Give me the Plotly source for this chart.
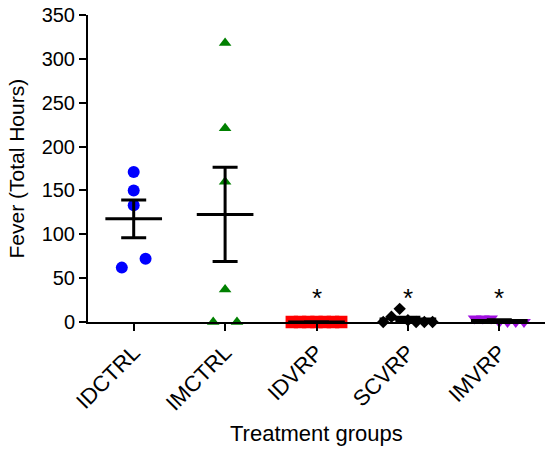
import numpy as np
import plotly.graph_objects as go

# Fever hours per animal
groups = ["IDCTRL", "IMCTRL", "IDVRP", "SCVRP", "IMVRP"]
idctrl = [171, 150, 133, 62, 72]
imctrl = [318, 221, 160, 37, 0, 0]
idvrp = [0, 0, 0, 0, 0, 0, 0]
scvrp = [0, 6, 15, 2, 0, 0, 0]
imvrp = [4, 4, 4, 0, 0, 0, 0]
significant = ["", "", "*", "*", "*"]

values = [idctrl, imctrl, idvrp, scvrp, imvrp]
colors = ["#0000FF", "#008000", "#FF0000", "#000000", "#A010E0"]
symbols = ["circle", "triangle-up", "square", "diamond", "triangle-down"]
sizes = [12, 11, 12.5, 9.5, 12]

FONT = "Liberation Sans, Arial, sans-serif"


def spread(vals, tol=14, step=0.26, max_width=0.54):
    """Scatter-dot style horizontal offsets for points that overlap."""
    vals = np.asarray(vals, dtype=float)
    order = np.argsort(vals, kind="stable")
    offsets = np.zeros(len(vals))
    clusters = [[order[0]]]
    for a, b in zip(order[:-1], order[1:]):
        if vals[b] - vals[a] <= tol:
            clusters[-1].append(b)
        else:
            clusters.append([b])
    for c in clusters:
        c = sorted(c)
        n = len(c)
        if n == 1:
            continue
        st = step
        if (n - 1) * st > max_width:
            st = max_width / (n - 1)
        for k, idx in enumerate(c):
            offsets[idx] = (k - (n - 1) / 2) * st
    return offsets


fig = go.Figure()

for i, vals in enumerate(values):
    off = spread(vals)
    fig.add_trace(
        go.Scatter(
            x=i + off,
            y=vals,
            mode="markers",
            marker=dict(symbol=symbols[i], size=sizes[i], color=colors[i], line=dict(width=0)),
            cliponaxis=False,
            showlegend=False,
            hoverinfo="y",
        )
    )

# mean +/- SEM drawn on top of the dots
means = [np.mean(v) for v in values]
sems = [np.std(v, ddof=1) / np.sqrt(len(v)) for v in values]
fig.add_trace(
    go.Scatter(
        x=list(range(len(groups))),
        y=means,
        mode="markers",
        marker=dict(size=1, color="black"),
        error_y=dict(type="data", array=sems, color="black", thickness=3, width=12.5),
        error_x=dict(type="constant", value=0.31, color="black", thickness=3, width=0),
        cliponaxis=False,
        showlegend=False,
        hoverinfo="skip",
    )
)

for i, s in enumerate(significant):
    if s:
        fig.add_annotation(
            x=i, y=27, text=s, showarrow=False,
            font=dict(family=FONT, size=26, color="black"),
        )

# axis titles as annotations so they sit where the original has them
fig.add_annotation(
    text="Fever (Total Hours)", xref="paper", yref="paper", x=0, y=0.5,
    xanchor="center", xshift=-72, textangle=-90, showarrow=False,
    font=dict(family=FONT, size=21, color="black"),
)
fig.add_annotation(
    text="Treatment groups", xref="paper", yref="paper", x=0.5, y=0,
    yanchor="middle", yshift=-111, showarrow=False,
    font=dict(family=FONT, size=22, color="black"),
)

fig.update_layout(
    width=550,
    height=450,
    margin=dict(l=88, r=5, t=15, b=128),
    paper_bgcolor="white",
    plot_bgcolor="white",
    font=dict(family=FONT, size=20, color="black"),
    showlegend=False,
)
fig.update_xaxes(
    range=[-0.5, 4.5],
    tickmode="array",
    tickvals=list(range(len(groups))),
    ticktext=groups,
    tickangle=-45,
    ticks="outside",
    ticklen=7,
    tickwidth=2,
    tickcolor="black",
    showline=True,
    linewidth=2,
    linecolor="black",
    showgrid=False,
    zeroline=False,
    automargin=False,
    tickfont=dict(size=22),
)
fig.update_yaxes(
    range=[0, 350],
    tickmode="array",
    tickvals=[0, 50, 100, 150, 200, 250, 300, 350],
    ticks="outside",
    ticklen=7,
    tickwidth=2,
    tickcolor="black",
    showline=True,
    linewidth=2,
    linecolor="black",
    showgrid=False,
    zeroline=False,
    automargin=False,
    ticklabeloverflow="allow",
    tickfont=dict(size=20),
)

# drop the default page margin so the figure fills the window exactly
fig.write_html(
    "out.html",
    config={"displayModeBar": False},
    post_script="document.body.style.margin = '0';",
)
